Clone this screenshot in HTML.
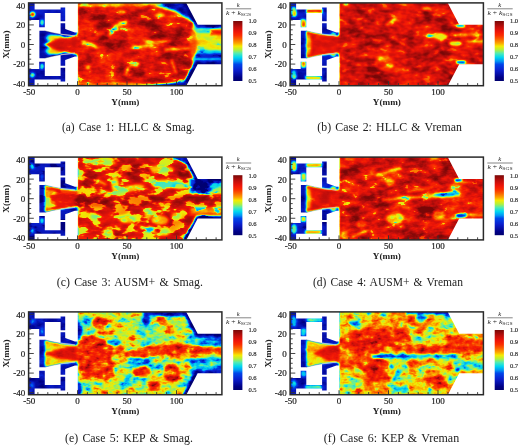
<!DOCTYPE html>
<html><head><meta charset="utf-8"><style>
html,body{margin:0;padding:0;background:#fff;width:520px;height:445px;overflow:hidden}
svg{display:block}
text{font-family:"Liberation Serif",serif;fill:#222}
.t{font-size:9px;stroke:#222;stroke-width:0.2px}
.b{font-size:9.2px;font-weight:bold}
.c{font-size:6.6px;stroke:#333;stroke-width:0.15px}
.cap{font-size:11.8px;fill:#222;word-spacing:1.3px}
</style></head><body>
<svg width="520" height="445" viewBox="0 0 520 445">
<defs>
<clipPath id="dom"><path d="M0.0,0.0 L6.0,0.0 L6.0,6.5 L36.6,6.5 L36.6,10.1 L16.2,10.1 L16.2,24.4 L10.6,24.4 L10.6,17.2 L0.0,17.2 Z M0.0,83.2 L6.0,83.2 L6.0,76.7 L36.6,76.7 L36.6,73.1 L16.2,73.1 L16.2,58.8 L10.6,58.8 L10.6,66.0 L0.0,66.0 Z M32.0,4.5 L36.6,4.5 L36.6,18.3 L32.0,18.3 Z M32.0,78.7 L36.6,78.7 L36.6,64.9 L32.0,64.9 Z M10.8,27.9 L16.2,27.9 L24.4,29.9 L32.0,31.3 L32.0,20.3 L36.6,20.3 L36.6,26.1 L46.3,29.6 L49.2,29.6 L49.2,0.0 L157.6,0.0 L169.1,21.9 L193.3,21.9 L193.3,61.3 L169.1,61.3 L157.6,83.2 L49.2,83.2 L49.2,53.6 L46.3,53.6 L36.6,57.1 L36.6,62.9 L32.0,62.9 L32.0,51.9 L24.4,53.3 L16.2,55.3 L10.8,55.3 Z"/></clipPath>
<linearGradient id="cb" x1="0" y1="1" x2="0" y2="0">
<stop offset="0.000" stop-color="rgb(0,0,110)"/>
<stop offset="0.060" stop-color="rgb(0,0,135)"/>
<stop offset="0.180" stop-color="rgb(10,30,205)"/>
<stop offset="0.280" stop-color="rgb(0,70,235)"/>
<stop offset="0.330" stop-color="rgb(0,150,245)"/>
<stop offset="0.395" stop-color="rgb(0,215,240)"/>
<stop offset="0.460" stop-color="rgb(80,235,180)"/>
<stop offset="0.520" stop-color="rgb(180,240,60)"/>
<stop offset="0.580" stop-color="rgb(245,235,0)"/>
<stop offset="0.630" stop-color="rgb(252,165,0)"/>
<stop offset="0.700" stop-color="rgb(250,95,0)"/>
<stop offset="0.760" stop-color="rgb(250,45,0)"/>
<stop offset="0.820" stop-color="rgb(240,22,8)"/>
<stop offset="0.900" stop-color="rgb(195,15,12)"/>
<stop offset="1.000" stop-color="rgb(120,8,8)"/>
</linearGradient>

<filter id="f0" x="0" y="0" width="193.3" height="82.8" filterUnits="userSpaceOnUse" color-interpolation-filters="sRGB">
<feGaussianBlur in="SourceGraphic" stdDeviation="1.20" result="m"/>
<feColorMatrix in="m" type="matrix" values="1 0 0 0 0  1 0 0 0 0  1 0 0 0 0  0 0 0 0 1" result="mR"/>
<feColorMatrix in="m" type="matrix" values="0 1 0 0 0  0 1 0 0 0  0 1 0 0 0  0 0 0 0 1" result="aG"/>
<feTurbulence type="fractalNoise" baseFrequency="0.09 0.16" numOctaves="3" seed="3" result="na"/>
<feColorMatrix in="na" type="matrix" values="1 0 0 0 0  1 0 0 0 0  1 0 0 0 0  0 0 0 0 1" result="na1"/>
<feComponentTransfer in="na1" result="nT"><feFuncR type="table" tableValues="0.000 0.010 0.021 0.031 0.042 0.100 0.350 0.387 0.425 0.463 0.500 0.533 0.567 0.600 0.621 0.643 0.664 0.686 0.707 0.729 0.750"/><feFuncG type="table" tableValues="0.000 0.010 0.021 0.031 0.042 0.100 0.350 0.387 0.425 0.463 0.500 0.533 0.567 0.600 0.621 0.643 0.664 0.686 0.707 0.729 0.750"/><feFuncB type="table" tableValues="0.000 0.010 0.021 0.031 0.042 0.100 0.350 0.387 0.425 0.463 0.500 0.533 0.567 0.600 0.621 0.643 0.664 0.686 0.707 0.729 0.750"/></feComponentTransfer>
<feComposite in="aG" in2="nT" operator="arithmetic" k1="1" k2="0" k3="0" k4="0" result="t"/>
<feComposite in="t" in2="aG" operator="arithmetic" k1="0" k2="1" k3="-0.5" k4="0.5" result="u"/>
<feComposite in="mR" in2="u" operator="arithmetic" k1="0" k2="1" k3="0.550" k4="-0.275" result="s1"/>
<feTurbulence type="fractalNoise" baseFrequency="0.03 0.05" numOctaves="2" seed="53" result="nb"/>
<feColorMatrix in="nb" type="matrix" values="1 0 0 0 0  1 0 0 0 0  1 0 0 0 0  0 0 0 0 1" result="nb1"/>
<feComposite in="aG" in2="nb1" operator="arithmetic" k1="1" k2="0" k3="0" k4="0" result="t2"/>
<feComposite in="t2" in2="aG" operator="arithmetic" k1="0" k2="1" k3="-0.5" k4="0.5" result="u2"/>
<feComposite in="s1" in2="u2" operator="arithmetic" k1="0" k2="1" k3="0.400" k4="-0.200" result="s"/>
<feComponentTransfer in="s">
<feFuncR type="table" tableValues="0.000 0.000 0.000 0.005 0.013 0.021 0.029 0.038 0.031 0.022 0.012 0.002 0.000 0.000 0.000 0.000 0.024 0.145 0.265 0.412 0.575 0.727 0.833 0.940 0.972 0.985 0.986 0.983 0.980 0.980 0.980 0.971 0.954 0.930 0.875 0.820 0.765 0.691 0.618 0.544 0.471"/>
<feFuncG type="table" tableValues="0.000 0.000 0.000 0.015 0.039 0.064 0.088 0.113 0.149 0.188 0.227 0.267 0.400 0.557 0.667 0.765 0.849 0.879 0.910 0.926 0.935 0.940 0.931 0.923 0.812 0.675 0.569 0.471 0.373 0.291 0.209 0.154 0.116 0.085 0.076 0.067 0.059 0.052 0.045 0.038 0.031"/>
<feFuncB type="table" tableValues="0.431 0.472 0.513 0.564 0.621 0.678 0.735 0.792 0.827 0.857 0.886 0.916 0.937 0.957 0.955 0.947 0.923 0.833 0.742 0.588 0.392 0.216 0.118 0.020 0.000 0.000 0.000 0.000 0.000 0.000 0.000 0.008 0.021 0.032 0.037 0.042 0.047 0.043 0.039 0.035 0.031"/>
<feFuncA type="linear" slope="0" intercept="1"/>
</feComponentTransfer>
</filter>
<filter id="f1" x="0" y="0" width="193.3" height="82.8" filterUnits="userSpaceOnUse" color-interpolation-filters="sRGB">
<feGaussianBlur in="SourceGraphic" stdDeviation="1.20" result="m"/>
<feColorMatrix in="m" type="matrix" values="1 0 0 0 0  1 0 0 0 0  1 0 0 0 0  0 0 0 0 1" result="mR"/>
<feColorMatrix in="m" type="matrix" values="0 1 0 0 0  0 1 0 0 0  0 1 0 0 0  0 0 0 0 1" result="aG"/>
<feTurbulence type="fractalNoise" baseFrequency="0.12 0.2" numOctaves="2" seed="5" result="na"/>
<feColorMatrix in="na" type="matrix" values="1 0 0 0 0  1 0 0 0 0  1 0 0 0 0  0 0 0 0 1" result="na1"/>
<feComponentTransfer in="na1" result="nT"><feFuncR type="table" tableValues="0.000 0.030 0.060 0.090 0.120 0.150 0.265 0.380 0.420 0.460 0.500 0.540 0.580 0.620 0.646 0.671 0.697 0.723 0.749 0.774 0.800"/><feFuncG type="table" tableValues="0.000 0.030 0.060 0.090 0.120 0.150 0.265 0.380 0.420 0.460 0.500 0.540 0.580 0.620 0.646 0.671 0.697 0.723 0.749 0.774 0.800"/><feFuncB type="table" tableValues="0.000 0.030 0.060 0.090 0.120 0.150 0.265 0.380 0.420 0.460 0.500 0.540 0.580 0.620 0.646 0.671 0.697 0.723 0.749 0.774 0.800"/></feComponentTransfer>
<feComposite in="aG" in2="nT" operator="arithmetic" k1="1" k2="0" k3="0" k4="0" result="t"/>
<feComposite in="t" in2="aG" operator="arithmetic" k1="0" k2="1" k3="-0.5" k4="0.5" result="u"/>
<feComposite in="mR" in2="u" operator="arithmetic" k1="0" k2="1" k3="0.400" k4="-0.200" result="s1"/>
<feTurbulence type="fractalNoise" baseFrequency="0.04 0.07" numOctaves="2" seed="55" result="nb"/>
<feColorMatrix in="nb" type="matrix" values="1 0 0 0 0  1 0 0 0 0  1 0 0 0 0  0 0 0 0 1" result="nb1"/>
<feComposite in="aG" in2="nb1" operator="arithmetic" k1="1" k2="0" k3="0" k4="0" result="t2"/>
<feComposite in="t2" in2="aG" operator="arithmetic" k1="0" k2="1" k3="-0.5" k4="0.5" result="u2"/>
<feComposite in="s1" in2="u2" operator="arithmetic" k1="0" k2="1" k3="0.400" k4="-0.200" result="s"/>
<feComponentTransfer in="s">
<feFuncR type="table" tableValues="0.000 0.000 0.000 0.005 0.013 0.021 0.029 0.038 0.031 0.022 0.012 0.002 0.000 0.000 0.000 0.000 0.024 0.145 0.265 0.412 0.575 0.727 0.833 0.940 0.972 0.985 0.986 0.983 0.980 0.980 0.980 0.971 0.954 0.930 0.875 0.820 0.765 0.691 0.618 0.544 0.471"/>
<feFuncG type="table" tableValues="0.000 0.000 0.000 0.015 0.039 0.064 0.088 0.113 0.149 0.188 0.227 0.267 0.400 0.557 0.667 0.765 0.849 0.879 0.910 0.926 0.935 0.940 0.931 0.923 0.812 0.675 0.569 0.471 0.373 0.291 0.209 0.154 0.116 0.085 0.076 0.067 0.059 0.052 0.045 0.038 0.031"/>
<feFuncB type="table" tableValues="0.431 0.472 0.513 0.564 0.621 0.678 0.735 0.792 0.827 0.857 0.886 0.916 0.937 0.957 0.955 0.947 0.923 0.833 0.742 0.588 0.392 0.216 0.118 0.020 0.000 0.000 0.000 0.000 0.000 0.000 0.000 0.008 0.021 0.032 0.037 0.042 0.047 0.043 0.039 0.035 0.031"/>
<feFuncA type="linear" slope="0" intercept="1"/>
</feComponentTransfer>
</filter>
<filter id="f2" x="0" y="0" width="193.3" height="82.8" filterUnits="userSpaceOnUse" color-interpolation-filters="sRGB">
<feGaussianBlur in="SourceGraphic" stdDeviation="1.20" result="m"/>
<feColorMatrix in="m" type="matrix" values="1 0 0 0 0  1 0 0 0 0  1 0 0 0 0  0 0 0 0 1" result="mR"/>
<feColorMatrix in="m" type="matrix" values="0 1 0 0 0  0 1 0 0 0  0 1 0 0 0  0 0 0 0 1" result="aG"/>
<feTurbulence type="fractalNoise" baseFrequency="0.07 0.13" numOctaves="3" seed="7" result="na"/>
<feColorMatrix in="na" type="matrix" values="1 0 0 0 0  1 0 0 0 0  1 0 0 0 0  0 0 0 0 1" result="na1"/>
<feComponentTransfer in="na1" result="nT"><feFuncR type="table" tableValues="0.000 0.000 0.000 0.000 0.000 0.000 0.000 0.000 0.000 0.250 0.500 0.550 0.583 0.617 0.650 0.658 0.667 0.675 0.683 0.692 0.700"/><feFuncG type="table" tableValues="0.000 0.000 0.000 0.000 0.000 0.000 0.000 0.000 0.000 0.250 0.500 0.550 0.583 0.617 0.650 0.658 0.667 0.675 0.683 0.692 0.700"/><feFuncB type="table" tableValues="0.000 0.000 0.000 0.000 0.000 0.000 0.000 0.000 0.000 0.250 0.500 0.550 0.583 0.617 0.650 0.658 0.667 0.675 0.683 0.692 0.700"/></feComponentTransfer>
<feComposite in="aG" in2="nT" operator="arithmetic" k1="1" k2="0" k3="0" k4="0" result="t"/>
<feComposite in="t" in2="aG" operator="arithmetic" k1="0" k2="1" k3="-0.5" k4="0.5" result="u"/>
<feComposite in="mR" in2="u" operator="arithmetic" k1="0" k2="1" k3="0.500" k4="-0.250" result="s1"/>
<feTurbulence type="fractalNoise" baseFrequency="0.03 0.05" numOctaves="2" seed="57" result="nb"/>
<feColorMatrix in="nb" type="matrix" values="1 0 0 0 0  1 0 0 0 0  1 0 0 0 0  0 0 0 0 1" result="nb1"/>
<feComposite in="aG" in2="nb1" operator="arithmetic" k1="1" k2="0" k3="0" k4="0" result="t2"/>
<feComposite in="t2" in2="aG" operator="arithmetic" k1="0" k2="1" k3="-0.5" k4="0.5" result="u2"/>
<feComposite in="s1" in2="u2" operator="arithmetic" k1="0" k2="1" k3="0.250" k4="-0.125" result="s"/>
<feComponentTransfer in="s">
<feFuncR type="table" tableValues="0.000 0.000 0.000 0.005 0.013 0.021 0.029 0.038 0.031 0.022 0.012 0.002 0.000 0.000 0.000 0.000 0.024 0.145 0.265 0.412 0.575 0.727 0.833 0.940 0.972 0.985 0.986 0.983 0.980 0.980 0.980 0.971 0.954 0.930 0.875 0.820 0.765 0.691 0.618 0.544 0.471"/>
<feFuncG type="table" tableValues="0.000 0.000 0.000 0.015 0.039 0.064 0.088 0.113 0.149 0.188 0.227 0.267 0.400 0.557 0.667 0.765 0.849 0.879 0.910 0.926 0.935 0.940 0.931 0.923 0.812 0.675 0.569 0.471 0.373 0.291 0.209 0.154 0.116 0.085 0.076 0.067 0.059 0.052 0.045 0.038 0.031"/>
<feFuncB type="table" tableValues="0.431 0.472 0.513 0.564 0.621 0.678 0.735 0.792 0.827 0.857 0.886 0.916 0.937 0.957 0.955 0.947 0.923 0.833 0.742 0.588 0.392 0.216 0.118 0.020 0.000 0.000 0.000 0.000 0.000 0.000 0.000 0.008 0.021 0.032 0.037 0.042 0.047 0.043 0.039 0.035 0.031"/>
<feFuncA type="linear" slope="0" intercept="1"/>
</feComponentTransfer>
</filter>
<filter id="f3" x="0" y="0" width="193.3" height="82.8" filterUnits="userSpaceOnUse" color-interpolation-filters="sRGB">
<feGaussianBlur in="SourceGraphic" stdDeviation="1.20" result="m"/>
<feColorMatrix in="m" type="matrix" values="1 0 0 0 0  1 0 0 0 0  1 0 0 0 0  0 0 0 0 1" result="mR"/>
<feColorMatrix in="m" type="matrix" values="0 1 0 0 0  0 1 0 0 0  0 1 0 0 0  0 0 0 0 1" result="aG"/>
<feTurbulence type="fractalNoise" baseFrequency="0.1 0.18" numOctaves="3" seed="9" result="na"/>
<feColorMatrix in="na" type="matrix" values="1 0 0 0 0  1 0 0 0 0  1 0 0 0 0  0 0 0 0 1" result="na1"/>
<feComponentTransfer in="na1" result="nT"><feFuncR type="table" tableValues="0.000 0.010 0.021 0.031 0.042 0.100 0.350 0.387 0.425 0.463 0.500 0.533 0.567 0.600 0.621 0.643 0.664 0.686 0.707 0.729 0.750"/><feFuncG type="table" tableValues="0.000 0.010 0.021 0.031 0.042 0.100 0.350 0.387 0.425 0.463 0.500 0.533 0.567 0.600 0.621 0.643 0.664 0.686 0.707 0.729 0.750"/><feFuncB type="table" tableValues="0.000 0.010 0.021 0.031 0.042 0.100 0.350 0.387 0.425 0.463 0.500 0.533 0.567 0.600 0.621 0.643 0.664 0.686 0.707 0.729 0.750"/></feComponentTransfer>
<feComposite in="aG" in2="nT" operator="arithmetic" k1="1" k2="0" k3="0" k4="0" result="t"/>
<feComposite in="t" in2="aG" operator="arithmetic" k1="0" k2="1" k3="-0.5" k4="0.5" result="u"/>
<feComposite in="mR" in2="u" operator="arithmetic" k1="0" k2="1" k3="0.500" k4="-0.250" result="s1"/>
<feTurbulence type="fractalNoise" baseFrequency="0.04 0.07" numOctaves="2" seed="59" result="nb"/>
<feColorMatrix in="nb" type="matrix" values="1 0 0 0 0  1 0 0 0 0  1 0 0 0 0  0 0 0 0 1" result="nb1"/>
<feComposite in="aG" in2="nb1" operator="arithmetic" k1="1" k2="0" k3="0" k4="0" result="t2"/>
<feComposite in="t2" in2="aG" operator="arithmetic" k1="0" k2="1" k3="-0.5" k4="0.5" result="u2"/>
<feComposite in="s1" in2="u2" operator="arithmetic" k1="0" k2="1" k3="0.400" k4="-0.200" result="s"/>
<feComponentTransfer in="s">
<feFuncR type="table" tableValues="0.000 0.000 0.000 0.005 0.013 0.021 0.029 0.038 0.031 0.022 0.012 0.002 0.000 0.000 0.000 0.000 0.024 0.145 0.265 0.412 0.575 0.727 0.833 0.940 0.972 0.985 0.986 0.983 0.980 0.980 0.980 0.971 0.954 0.930 0.875 0.820 0.765 0.691 0.618 0.544 0.471"/>
<feFuncG type="table" tableValues="0.000 0.000 0.000 0.015 0.039 0.064 0.088 0.113 0.149 0.188 0.227 0.267 0.400 0.557 0.667 0.765 0.849 0.879 0.910 0.926 0.935 0.940 0.931 0.923 0.812 0.675 0.569 0.471 0.373 0.291 0.209 0.154 0.116 0.085 0.076 0.067 0.059 0.052 0.045 0.038 0.031"/>
<feFuncB type="table" tableValues="0.431 0.472 0.513 0.564 0.621 0.678 0.735 0.792 0.827 0.857 0.886 0.916 0.937 0.957 0.955 0.947 0.923 0.833 0.742 0.588 0.392 0.216 0.118 0.020 0.000 0.000 0.000 0.000 0.000 0.000 0.000 0.008 0.021 0.032 0.037 0.042 0.047 0.043 0.039 0.035 0.031"/>
<feFuncA type="linear" slope="0" intercept="1"/>
</feComponentTransfer>
</filter>
<filter id="f4" x="0" y="0" width="193.3" height="82.8" filterUnits="userSpaceOnUse" color-interpolation-filters="sRGB">
<feGaussianBlur in="SourceGraphic" stdDeviation="1.20" result="m"/>
<feColorMatrix in="m" type="matrix" values="1 0 0 0 0  1 0 0 0 0  1 0 0 0 0  0 0 0 0 1" result="mR"/>
<feColorMatrix in="m" type="matrix" values="0 1 0 0 0  0 1 0 0 0  0 1 0 0 0  0 0 0 0 1" result="aG"/>
<feTurbulence type="fractalNoise" baseFrequency="0.11 0.17" numOctaves="3" seed="11" result="na"/>
<feColorMatrix in="na" type="matrix" values="1 0 0 0 0  1 0 0 0 0  1 0 0 0 0  0 0 0 0 1" result="na1"/>
<feComponentTransfer in="na1" result="nT"><feFuncR type="table" tableValues="0.1 0.18 0.28 0.38 0.45 0.5 0.55 0.62 0.72 0.82 0.9"/><feFuncG type="table" tableValues="0.1 0.18 0.28 0.38 0.45 0.5 0.55 0.62 0.72 0.82 0.9"/><feFuncB type="table" tableValues="0.1 0.18 0.28 0.38 0.45 0.5 0.55 0.62 0.72 0.82 0.9"/></feComponentTransfer>
<feComposite in="aG" in2="nT" operator="arithmetic" k1="1" k2="0" k3="0" k4="0" result="t"/>
<feComposite in="t" in2="aG" operator="arithmetic" k1="0" k2="1" k3="-0.5" k4="0.5" result="u"/>
<feComposite in="mR" in2="u" operator="arithmetic" k1="0" k2="1" k3="0.900" k4="-0.450" result="s1"/>
<feTurbulence type="fractalNoise" baseFrequency="0.03 0.05" numOctaves="2" seed="61" result="nb"/>
<feColorMatrix in="nb" type="matrix" values="1 0 0 0 0  1 0 0 0 0  1 0 0 0 0  0 0 0 0 1" result="nb1"/>
<feComposite in="aG" in2="nb1" operator="arithmetic" k1="1" k2="0" k3="0" k4="0" result="t2"/>
<feComposite in="t2" in2="aG" operator="arithmetic" k1="0" k2="1" k3="-0.5" k4="0.5" result="u2"/>
<feComposite in="s1" in2="u2" operator="arithmetic" k1="0" k2="1" k3="0.300" k4="-0.150" result="s"/>
<feComponentTransfer in="s">
<feFuncR type="table" tableValues="0.000 0.000 0.000 0.005 0.013 0.021 0.029 0.038 0.031 0.022 0.012 0.002 0.000 0.000 0.000 0.000 0.024 0.145 0.265 0.412 0.575 0.727 0.833 0.940 0.972 0.985 0.986 0.983 0.980 0.980 0.980 0.971 0.954 0.930 0.875 0.820 0.765 0.691 0.618 0.544 0.471"/>
<feFuncG type="table" tableValues="0.000 0.000 0.000 0.015 0.039 0.064 0.088 0.113 0.149 0.188 0.227 0.267 0.400 0.557 0.667 0.765 0.849 0.879 0.910 0.926 0.935 0.940 0.931 0.923 0.812 0.675 0.569 0.471 0.373 0.291 0.209 0.154 0.116 0.085 0.076 0.067 0.059 0.052 0.045 0.038 0.031"/>
<feFuncB type="table" tableValues="0.431 0.472 0.513 0.564 0.621 0.678 0.735 0.792 0.827 0.857 0.886 0.916 0.937 0.957 0.955 0.947 0.923 0.833 0.742 0.588 0.392 0.216 0.118 0.020 0.000 0.000 0.000 0.000 0.000 0.000 0.000 0.008 0.021 0.032 0.037 0.042 0.047 0.043 0.039 0.035 0.031"/>
<feFuncA type="linear" slope="0" intercept="1"/>
</feComponentTransfer>
</filter>
<filter id="f5" x="0" y="0" width="193.3" height="82.8" filterUnits="userSpaceOnUse" color-interpolation-filters="sRGB">
<feGaussianBlur in="SourceGraphic" stdDeviation="1.20" result="m"/>
<feColorMatrix in="m" type="matrix" values="1 0 0 0 0  1 0 0 0 0  1 0 0 0 0  0 0 0 0 1" result="mR"/>
<feColorMatrix in="m" type="matrix" values="0 1 0 0 0  0 1 0 0 0  0 1 0 0 0  0 0 0 0 1" result="aG"/>
<feTurbulence type="fractalNoise" baseFrequency="0.11 0.17" numOctaves="3" seed="13" result="na"/>
<feColorMatrix in="na" type="matrix" values="1 0 0 0 0  1 0 0 0 0  1 0 0 0 0  0 0 0 0 1" result="na1"/>
<feComponentTransfer in="na1" result="nT"><feFuncR type="table" tableValues="0.1 0.18 0.28 0.38 0.45 0.5 0.55 0.62 0.72 0.82 0.9"/><feFuncG type="table" tableValues="0.1 0.18 0.28 0.38 0.45 0.5 0.55 0.62 0.72 0.82 0.9"/><feFuncB type="table" tableValues="0.1 0.18 0.28 0.38 0.45 0.5 0.55 0.62 0.72 0.82 0.9"/></feComponentTransfer>
<feComposite in="aG" in2="nT" operator="arithmetic" k1="1" k2="0" k3="0" k4="0" result="t"/>
<feComposite in="t" in2="aG" operator="arithmetic" k1="0" k2="1" k3="-0.5" k4="0.5" result="u"/>
<feComposite in="mR" in2="u" operator="arithmetic" k1="0" k2="1" k3="0.900" k4="-0.450" result="s1"/>
<feTurbulence type="fractalNoise" baseFrequency="0.03 0.05" numOctaves="2" seed="63" result="nb"/>
<feColorMatrix in="nb" type="matrix" values="1 0 0 0 0  1 0 0 0 0  1 0 0 0 0  0 0 0 0 1" result="nb1"/>
<feComposite in="aG" in2="nb1" operator="arithmetic" k1="1" k2="0" k3="0" k4="0" result="t2"/>
<feComposite in="t2" in2="aG" operator="arithmetic" k1="0" k2="1" k3="-0.5" k4="0.5" result="u2"/>
<feComposite in="s1" in2="u2" operator="arithmetic" k1="0" k2="1" k3="0.300" k4="-0.150" result="s"/>
<feComponentTransfer in="s">
<feFuncR type="table" tableValues="0.000 0.000 0.000 0.005 0.013 0.021 0.029 0.038 0.031 0.022 0.012 0.002 0.000 0.000 0.000 0.000 0.024 0.145 0.265 0.412 0.575 0.727 0.833 0.940 0.972 0.985 0.986 0.983 0.980 0.980 0.980 0.971 0.954 0.930 0.875 0.820 0.765 0.691 0.618 0.544 0.471"/>
<feFuncG type="table" tableValues="0.000 0.000 0.000 0.015 0.039 0.064 0.088 0.113 0.149 0.188 0.227 0.267 0.400 0.557 0.667 0.765 0.849 0.879 0.910 0.926 0.935 0.940 0.931 0.923 0.812 0.675 0.569 0.471 0.373 0.291 0.209 0.154 0.116 0.085 0.076 0.067 0.059 0.052 0.045 0.038 0.031"/>
<feFuncB type="table" tableValues="0.431 0.472 0.513 0.564 0.621 0.678 0.735 0.792 0.827 0.857 0.886 0.916 0.937 0.957 0.955 0.947 0.923 0.833 0.742 0.588 0.392 0.216 0.118 0.020 0.000 0.000 0.000 0.000 0.000 0.000 0.000 0.008 0.021 0.032 0.037 0.042 0.047 0.043 0.039 0.035 0.031"/>
<feFuncA type="linear" slope="0" intercept="1"/>
</feComponentTransfer>
</filter>
</defs>
<g transform="translate(28.60,2.90)"><g clip-path="url(#dom)"><g filter="url(#f0)"><rect x="0" y="0" width="193.3" height="82.8" fill="rgb(217,255,0)"/><rect x="-28.6" y="-2.9" width="77.5" height="90.0" fill="rgb(33,102,0)"/><ellipse cx="3.9" cy="11.6" rx="2.6" ry="2.4" fill="rgb(199,102,0)"/><ellipse cx="3.9" cy="72.1" rx="2.6" ry="2.4" fill="rgb(140,102,0)"/><ellipse cx="13.4" cy="19.6" rx="1.8" ry="3.2" fill="rgb(128,102,0)"/><ellipse cx="13.4" cy="63.6" rx="1.8" ry="3.2" fill="rgb(128,102,0)"/><ellipse cx="21.4" cy="35.1" rx="5.0" ry="4.0" fill="rgb(115,102,0)"/><ellipse cx="21.4" cy="48.1" rx="5.0" ry="4.0" fill="rgb(115,102,0)"/><ellipse cx="27.4" cy="35.1" rx="8.0" ry="3.5" fill="rgb(153,102,0)"/><ellipse cx="27.4" cy="48.1" rx="8.0" ry="3.5" fill="rgb(153,102,0)"/><path d="M14.4,41.7 L29.4,36.1 L48.9,32.1 L48.9,51.6 L29.4,47.6 Z" fill="rgb(219,102,0)"/><rect x="48.9" y="0.1" width="112.5" height="84.0" fill="rgb(217,255,0)"/><ellipse cx="59.4" cy="14.1" rx="8.0" ry="7.0" fill="rgb(224,255,0)"/><ellipse cx="111.4" cy="27.1" rx="11.0" ry="9.0" fill="rgb(224,255,0)"/><ellipse cx="68.4" cy="52.1" rx="11.0" ry="6.0" fill="rgb(224,255,0)"/><ellipse cx="127.4" cy="26.1" rx="10.0" ry="11.0" fill="rgb(227,255,0)"/><ellipse cx="132.4" cy="65.1" rx="9.0" ry="14.0" fill="rgb(224,255,0)"/><ellipse cx="81.4" cy="72.1" rx="8.0" ry="6.0" fill="rgb(222,255,0)"/><ellipse cx="121.4" cy="49.1" rx="6.0" ry="5.0" fill="rgb(222,255,0)"/><path d="M81.4,31.1 L85.4,25.1 L91.4,21.1 L97.4,19.1" fill="none" stroke="rgb(153,255,0)" stroke-width="4.0" stroke-linecap="round" stroke-linejoin="round"/><ellipse cx="86.9" cy="26.1" rx="2.5" ry="2.0" fill="rgb(115,255,0)"/><path d="M54.4,39.1 L61.4,41.1 L67.4,44.1" fill="none" stroke="rgb(153,255,0)" stroke-width="3.5" stroke-linecap="round" stroke-linejoin="round"/><ellipse cx="59.4" cy="64.1" rx="3.0" ry="3.0" fill="rgb(158,255,0)"/><path d="M97.4,71.1 L99.4,65.1 L103.4,62.1 L109.4,61.1" fill="none" stroke="rgb(153,255,0)" stroke-width="3.5" stroke-linecap="round" stroke-linejoin="round"/><ellipse cx="99.4" cy="66.6" rx="1.5" ry="2.5" fill="rgb(115,255,0)"/><ellipse cx="107.9" cy="62.1" rx="1.3" ry="1.8" fill="rgb(117,255,0)"/><path d="M103.4,45.1 L113.4,43.1 L123.4,42.1" fill="none" stroke="rgb(153,255,0)" stroke-width="3.0" stroke-linecap="round" stroke-linejoin="round"/><path d="M117.4,39.1 L129.4,38.6 L141.4,38.1" fill="none" stroke="rgb(158,255,0)" stroke-width="2.6" stroke-linecap="round" stroke-linejoin="round"/><path d="M137.4,47.1 L151.4,46.1 L163.4,45.1" fill="none" stroke="rgb(133,255,0)" stroke-width="3.5" stroke-linecap="round" stroke-linejoin="round"/><path d="M143.4,58.1 L145.4,64.1 L147.4,69.1" fill="none" stroke="rgb(153,255,0)" stroke-width="2.5" stroke-linecap="round" stroke-linejoin="round"/><path d="M50.4,2.6 L71.4,2.6 L117.4,2.1" fill="none" stroke="rgb(158,255,0)" stroke-width="3.0" stroke-linecap="round" stroke-linejoin="round"/><ellipse cx="55.4" cy="2.1" rx="5.0" ry="1.8" fill="rgb(102,255,0)"/><path d="M50.4,81.1 L81.4,81.1 L121.4,81.1" fill="none" stroke="rgb(158,255,0)" stroke-width="2.6" stroke-linecap="round" stroke-linejoin="round"/><ellipse cx="71.4" cy="31.1" rx="5.0" ry="2.0" fill="rgb(161,255,0)" transform="rotate(-20 71.4 31.1)"/><ellipse cx="93.4" cy="9.1" rx="4.0" ry="2.0" fill="rgb(161,255,0)"/><ellipse cx="131.4" cy="12.1" rx="5.0" ry="2.5" fill="rgb(158,255,0)"/><path d="M117.4,0.1 L158.4,0.1 L166.4,17.1 L161.4,19.1 L151.4,12.1 L139.4,7.1 L126.4,3.1 L117.4,2.1 Z" fill="rgb(128,255,0)"/><path d="M131.4,0.1 L158.4,0.1 L164.4,14.1 L157.4,13.1 L149.4,8.1 L139.4,4.1 Z" fill="rgb(31,255,0)"/><rect x="163.4" y="21.1" width="31.0" height="42.0" fill="rgb(148,115,0)"/><rect x="163.4" y="25.6" width="31.0" height="4.5" fill="rgb(120,115,0)"/><rect x="163.4" y="36.1" width="31.0" height="11.0" fill="rgb(153,115,0)"/><rect x="181.4" y="27.1" width="13.0" height="5.0" fill="rgb(204,115,0)"/><rect x="163.4" y="47.1" width="31.0" height="4.0" fill="rgb(102,115,0)"/><rect x="163.4" y="51.1" width="31.0" height="4.0" fill="rgb(46,115,0)"/><rect x="163.4" y="55.1" width="31.0" height="3.0" fill="rgb(107,115,0)"/><ellipse cx="164.4" cy="41.1" rx="4.0" ry="14.0" fill="rgb(178,115,0)"/><path d="M107.4,84.1 L158.4,84.1 L158.4,77.1 L149.4,78.6 L136.4,80.1 L121.4,81.6 Z" fill="rgb(128,255,0)"/><path d="M111.4,84.1 L158.4,84.1 L158.4,78.6 L149.4,79.9 L136.4,81.3 L121.4,82.6 Z" fill="rgb(15,255,0)"/><path d="M157.6,0.1 L169.1,21.9 L194.4,21.9" fill="none" stroke="rgb(10,255,0)" stroke-width="6.0" stroke-linecap="round" stroke-linejoin="round"/><path d="M157.6,83.4 L169.1,61.5 L194.4,61.5" fill="none" stroke="rgb(10,255,0)" stroke-width="8.0" stroke-linecap="round" stroke-linejoin="round"/></g></g><path d="M32,31.3 L46.3,33 M32,51.9 L46.3,50.2" stroke="#fff" stroke-width="0.9" fill="none"/><path d="M16.2,27.9 L24.4,29.9 L32,31.3 L46.3,33 M16.2,55.3 L24.4,53.3 L32,51.9 L46.3,50.2" stroke="#666" stroke-width="0.45" fill="none" opacity="0.8"/><path d="M9.30,82.80 v-2.6 M19.20,82.80 v-2.6 M29.10,82.80 v-2.6 M39.00,82.80 v-2.6 M48.90,82.80 v-4.5 M58.80,82.80 v-2.6 M68.70,82.80 v-2.6 M78.60,82.80 v-2.6 M88.50,82.80 v-2.6 M98.40,82.80 v-4.5 M108.30,82.80 v-2.6 M118.20,82.80 v-2.6 M128.10,82.80 v-2.6 M138.00,82.80 v-2.6 M147.90,82.80 v-4.5 M157.80,82.80 v-2.6 M167.70,82.80 v-2.6 M177.60,82.80 v-2.6 M187.50,82.80 v-2.6 M0,80.76 h5.2 M0,75.87 h2.6 M0,70.97 h2.6 M0,66.08 h2.6 M0,61.18 h5.2 M0,56.29 h2.6 M0,51.39 h2.6 M0,46.50 h2.6 M0,41.60 h5.2 M0,36.70 h2.6 M0,31.81 h2.6 M0,26.91 h2.6 M0,22.02 h5.2 M0,17.13 h2.6 M0,12.23 h2.6 M0,7.34 h2.6 M0,2.44 h5.2" stroke="#333" stroke-width="0.9" fill="none"/><rect x="0" y="0" width="193.3" height="82.8" fill="none" stroke="#2a2a2a" stroke-width="1.5"/><text class="t" x="0.60" y="92.40" text-anchor="middle">-50</text><text class="t" x="48.90" y="92.40" text-anchor="middle">0</text><text class="t" x="98.40" y="92.40" text-anchor="middle">50</text><text class="t" x="147.90" y="92.40" text-anchor="middle">100</text><text class="t" x="-3.3" y="5.84" text-anchor="end">40</text><text class="t" x="-3.3" y="25.42" text-anchor="end">20</text><text class="t" x="-3.3" y="45.00" text-anchor="end">0</text><text class="t" x="-3.3" y="64.58" text-anchor="end">-20</text><text class="t" x="-3.3" y="84.16" text-anchor="end">-40</text><text class="b" x="96.8" y="101.80" text-anchor="middle">Y(mm)</text><text class="b" transform="translate(-19.6,41.60) rotate(-90)" text-anchor="middle">X(mm)</text><rect x="204.6" y="18.1" width="9.2" height="60" fill="url(#cb)"/><text class="c" x="219.8" y="20.50">1.0</text><text class="c" x="219.8" y="32.50">0.9</text><text class="c" x="219.8" y="44.50">0.8</text><text class="c" x="219.8" y="56.50">0.7</text><text class="c" x="219.8" y="68.50">0.6</text><text class="c" x="219.8" y="80.50">0.5</text><text x="209.6" y="3.6" text-anchor="middle" style="font-size:6.5px;font-style:italic">k</text><line x1="197.2" x2="222.6" y1="5.9" y2="5.9" stroke="#333" stroke-width="0.6"/><text x="197.3" y="12.4" style="font-size:6.5px" textLength="25.2" lengthAdjust="spacingAndGlyphs"><tspan font-style="italic">k</tspan> + <tspan font-style="italic">k</tspan><tspan style="font-size:4.8px" dy="1">SGS</tspan></text></g>
<text class="cap" x="61.9" y="131.4" textLength="132.7" lengthAdjust="spacingAndGlyphs" xml:space="preserve">(a) Case 1: HLLC &amp; Smag.</text>
<g transform="translate(290.10,2.90)"><g clip-path="url(#dom)"><g filter="url(#f1)"><rect x="0" y="0" width="193.3" height="82.8" fill="rgb(222,255,0)"/><rect x="-28.6" y="-2.9" width="77.5" height="90.0" fill="rgb(33,102,0)"/><ellipse cx="3.9" cy="9.1" rx="3.0" ry="5.5" fill="rgb(122,102,0)"/><ellipse cx="4.4" cy="11.1" rx="2.0" ry="2.5" fill="rgb(163,102,0)"/><rect x="16.1" y="5.8" width="16.3" height="4.4" fill="rgb(204,102,0)"/><rect x="10.6" y="16.1" width="5.6" height="8.6" fill="rgb(158,102,0)"/><ellipse cx="13.4" cy="22.1" rx="2.5" ry="2.5" fill="rgb(184,102,0)"/><ellipse cx="43.4" cy="30.6" rx="3.0" ry="1.8" fill="rgb(128,102,0)"/><rect x="10.6" y="58.6" width="5.6" height="6.5" fill="rgb(148,102,0)"/><ellipse cx="13.4" cy="60.1" rx="2.5" ry="2.0" fill="rgb(191,102,0)"/><ellipse cx="3.9" cy="72.1" rx="3.0" ry="5.0" fill="rgb(115,102,0)"/><ellipse cx="4.4" cy="74.1" rx="2.0" ry="2.0" fill="rgb(143,102,0)"/><rect x="14.9" y="72.9" width="16.5" height="4.4" fill="rgb(158,102,0)"/><ellipse cx="43.4" cy="52.6" rx="3.0" ry="1.8" fill="rgb(128,102,0)"/><ellipse cx="33.9" cy="11.1" rx="1.0" ry="1.5" fill="rgb(76,102,0)"/><ellipse cx="33.9" cy="70.1" rx="1.0" ry="1.5" fill="rgb(76,102,0)"/><path d="M16.2,27.9 L24.4,29.9 L32.0,31.3 L46.3,33.0 L49.4,33.4 L49.4,50.0 L46.3,50.4 L32.0,52.1 L24.4,53.5 L16.2,55.5 Z" fill="rgb(217,102,0)"/><ellipse cx="18.9" cy="41.7" rx="2.5" ry="11.0" fill="rgb(158,102,0)"/><rect x="48.9" y="0.1" width="112.5" height="84.0" fill="rgb(222,255,0)"/><rect x="161.4" y="21.1" width="33.0" height="42.0" fill="rgb(212,255,0)"/><ellipse cx="94.4" cy="60.1" rx="10.0" ry="8.0" fill="rgb(189,255,0)"/><ellipse cx="99.4" cy="63.1" rx="4.0" ry="3.0" fill="rgb(158,255,0)"/><ellipse cx="91.4" cy="55.1" rx="3.0" ry="2.0" fill="rgb(158,255,0)"/><path d="M96.4,22.1 L105.4,16.1" fill="none" stroke="rgb(163,255,0)" stroke-width="2.5" stroke-linecap="round" stroke-linejoin="round"/><ellipse cx="55.4" cy="1.6" rx="3.0" ry="1.5" fill="rgb(158,255,0)"/><ellipse cx="135.9" cy="5.6" rx="5.0" ry="1.5" fill="rgb(161,255,0)"/><ellipse cx="66.4" cy="42.1" rx="12.0" ry="10.0" fill="rgb(230,255,0)"/><ellipse cx="121.4" cy="57.1" rx="12.0" ry="10.0" fill="rgb(230,255,0)"/><ellipse cx="76.4" cy="17.1" rx="10.0" ry="8.0" fill="rgb(230,255,0)"/><ellipse cx="141.4" cy="47.1" rx="10.0" ry="8.0" fill="rgb(230,255,0)"/><path d="M165.4,32.1 L192.4,31.6" fill="none" stroke="rgb(161,255,0)" stroke-width="3.0" stroke-linecap="round" stroke-linejoin="round"/><path d="M177.4,38.6 L192.4,38.6" fill="none" stroke="rgb(158,255,0)" stroke-width="2.5" stroke-linecap="round" stroke-linejoin="round"/><ellipse cx="150.2" cy="33.5" rx="8.0" ry="3.5" fill="rgb(140,102,0)"/><ellipse cx="165.4" cy="40.6" rx="7.0" ry="3.0" fill="rgb(128,102,0)"/><ellipse cx="170.4" cy="22.9" rx="5.0" ry="1.5" fill="rgb(26,255,0)"/><ellipse cx="170.9" cy="59.3" rx="5.0" ry="1.5" fill="rgb(26,255,0)"/><ellipse cx="141.4" cy="33.1" rx="5.0" ry="2.0" fill="rgb(158,255,0)"/></g></g><path d="M32,31.3 L46.3,33 M32,51.9 L46.3,50.2" stroke="#fff" stroke-width="0.9" fill="none"/><path d="M16.2,27.9 L24.4,29.9 L32,31.3 L46.3,33 M16.2,55.3 L24.4,53.3 L32,51.9 L46.3,50.2" stroke="#666" stroke-width="0.45" fill="none" opacity="0.8"/><path d="M9.30,82.80 v-2.6 M19.20,82.80 v-2.6 M29.10,82.80 v-2.6 M39.00,82.80 v-2.6 M48.90,82.80 v-4.5 M58.80,82.80 v-2.6 M68.70,82.80 v-2.6 M78.60,82.80 v-2.6 M88.50,82.80 v-2.6 M98.40,82.80 v-4.5 M108.30,82.80 v-2.6 M118.20,82.80 v-2.6 M128.10,82.80 v-2.6 M138.00,82.80 v-2.6 M147.90,82.80 v-4.5 M157.80,82.80 v-2.6 M167.70,82.80 v-2.6 M177.60,82.80 v-2.6 M187.50,82.80 v-2.6 M0,80.76 h5.2 M0,75.87 h2.6 M0,70.97 h2.6 M0,66.08 h2.6 M0,61.18 h5.2 M0,56.29 h2.6 M0,51.39 h2.6 M0,46.50 h2.6 M0,41.60 h5.2 M0,36.70 h2.6 M0,31.81 h2.6 M0,26.91 h2.6 M0,22.02 h5.2 M0,17.13 h2.6 M0,12.23 h2.6 M0,7.34 h2.6 M0,2.44 h5.2" stroke="#333" stroke-width="0.9" fill="none"/><rect x="0" y="0" width="193.3" height="82.8" fill="none" stroke="#2a2a2a" stroke-width="1.5"/><text class="t" x="0.60" y="92.40" text-anchor="middle">-50</text><text class="t" x="48.90" y="92.40" text-anchor="middle">0</text><text class="t" x="98.40" y="92.40" text-anchor="middle">50</text><text class="t" x="147.90" y="92.40" text-anchor="middle">100</text><text class="t" x="-3.3" y="5.84" text-anchor="end">40</text><text class="t" x="-3.3" y="25.42" text-anchor="end">20</text><text class="t" x="-3.3" y="45.00" text-anchor="end">0</text><text class="t" x="-3.3" y="64.58" text-anchor="end">-20</text><text class="t" x="-3.3" y="84.16" text-anchor="end">-40</text><text class="b" x="96.8" y="101.80" text-anchor="middle">Y(mm)</text><text class="b" transform="translate(-19.6,41.60) rotate(-90)" text-anchor="middle">X(mm)</text><rect x="204.6" y="18.1" width="9.2" height="60" fill="url(#cb)"/><text class="c" x="219.8" y="20.50">1.0</text><text class="c" x="219.8" y="32.50">0.9</text><text class="c" x="219.8" y="44.50">0.8</text><text class="c" x="219.8" y="56.50">0.7</text><text class="c" x="219.8" y="68.50">0.6</text><text class="c" x="219.8" y="80.50">0.5</text><text x="209.6" y="3.6" text-anchor="middle" style="font-size:6.5px;font-style:italic">k</text><line x1="197.2" x2="222.6" y1="5.9" y2="5.9" stroke="#333" stroke-width="0.6"/><text x="197.3" y="12.4" style="font-size:6.5px" textLength="25.2" lengthAdjust="spacingAndGlyphs"><tspan font-style="italic">k</tspan> + <tspan font-style="italic">k</tspan><tspan style="font-size:4.8px" dy="1">SGS</tspan></text></g>
<text class="cap" x="317.3" y="131.4" textLength="144.7" lengthAdjust="spacingAndGlyphs" xml:space="preserve">(b) Case 2: HLLC &amp; Vreman</text>
<g transform="translate(28.60,157.10)"><g clip-path="url(#dom)"><g filter="url(#f2)"><rect x="0" y="0" width="193.3" height="82.8" fill="rgb(209,255,0)"/><rect x="-28.6" y="-2.9" width="77.5" height="90.0" fill="rgb(33,102,0)"/><ellipse cx="3.9" cy="9.1" rx="2.0" ry="3.0" fill="rgb(115,102,0)"/><ellipse cx="3.9" cy="73.1" rx="2.0" ry="3.0" fill="rgb(107,102,0)"/><ellipse cx="13.4" cy="19.6" rx="1.6" ry="3.0" fill="rgb(115,102,0)"/><ellipse cx="13.4" cy="63.6" rx="1.6" ry="3.0" fill="rgb(115,102,0)"/><path d="M16.2,27.9 L24.4,29.9 L32.0,31.3 L46.3,33.0 L49.4,33.4 L49.4,50.0 L46.3,50.4 L32.0,52.1 L24.4,53.5 L16.2,55.5 Z" fill="rgb(214,102,0)"/><ellipse cx="19.4" cy="41.7" rx="2.5" ry="10.0" fill="rgb(158,102,0)"/><ellipse cx="23.4" cy="35.1" rx="4.0" ry="2.5" fill="rgb(166,102,0)"/><ellipse cx="23.4" cy="48.1" rx="4.0" ry="2.5" fill="rgb(166,102,0)"/><rect x="48.9" y="0.1" width="112.5" height="84.0" fill="rgb(209,255,0)"/><ellipse cx="73.4" cy="5.1" rx="14.0" ry="3.5" fill="rgb(153,115,0)"/><ellipse cx="60.4" cy="44.1" rx="10.0" ry="4.0" fill="rgb(153,115,0)" transform="rotate(-10 60.4 44.1)"/><ellipse cx="60.4" cy="44.1" rx="3.0" ry="1.6" fill="rgb(115,115,0)"/><ellipse cx="103.4" cy="31.1" rx="13.0" ry="3.5" fill="rgb(153,115,0)" transform="rotate(-10 103.4 31.1)"/><ellipse cx="86.4" cy="27.1" rx="4.0" ry="9.0" fill="rgb(153,115,0)"/><ellipse cx="98.4" cy="62.1" rx="9.0" ry="4.0" fill="rgb(153,115,0)"/><ellipse cx="95.4" cy="63.1" rx="3.0" ry="1.6" fill="rgb(115,115,0)"/><ellipse cx="79.4" cy="75.1" rx="5.0" ry="5.0" fill="rgb(153,115,0)"/><ellipse cx="119.4" cy="57.1" rx="4.0" ry="5.0" fill="rgb(153,115,0)"/><ellipse cx="66.4" cy="59.1" rx="5.0" ry="3.0" fill="rgb(153,115,0)"/><path d="M56.4,5.1 L71.4,3.1 L86.4,6.1" fill="none" stroke="rgb(153,115,0)" stroke-width="3.0" stroke-linecap="round" stroke-linejoin="round"/><path d="M51.4,17.1 L66.4,22.1 L76.4,27.1" fill="none" stroke="rgb(153,115,0)" stroke-width="2.5" stroke-linecap="round" stroke-linejoin="round"/><path d="M71.4,33.1 L81.4,36.1 L91.4,42.1" fill="none" stroke="rgb(153,115,0)" stroke-width="2.5" stroke-linecap="round" stroke-linejoin="round"/><path d="M111.4,69.1 L121.4,73.1 L131.4,78.1" fill="none" stroke="rgb(153,115,0)" stroke-width="2.5" stroke-linecap="round" stroke-linejoin="round"/><ellipse cx="131.4" cy="12.1" rx="14.0" ry="4.0" fill="rgb(153,115,0)"/><ellipse cx="136.4" cy="27.1" rx="14.0" ry="5.0" fill="rgb(145,115,0)"/><ellipse cx="151.4" cy="29.1" rx="9.0" ry="3.0" fill="rgb(128,115,0)"/><ellipse cx="131.4" cy="63.1" rx="9.0" ry="5.0" fill="rgb(153,115,0)"/><ellipse cx="121.4" cy="72.1" rx="5.0" ry="3.0" fill="rgb(115,115,0)"/><ellipse cx="147.4" cy="59.1" rx="5.0" ry="4.0" fill="rgb(153,115,0)"/><ellipse cx="136.4" cy="75.1" rx="5.0" ry="4.0" fill="rgb(153,115,0)"/><ellipse cx="110.4" cy="16.1" rx="12.0" ry="9.0" fill="rgb(230,255,0)"/><ellipse cx="91.4" cy="51.1" rx="10.0" ry="7.0" fill="rgb(230,255,0)"/><ellipse cx="61.4" cy="22.1" rx="8.0" ry="10.0" fill="rgb(227,255,0)"/><ellipse cx="156.4" cy="16.1" rx="7.0" ry="7.0" fill="rgb(230,255,0)"/><path d="M51.4,44.1 L111.4,44.1 L194.4,44.1" fill="none" stroke="rgb(230,255,0)" stroke-width="11.0" stroke-linecap="round" stroke-linejoin="round"/><path d="M143.4,0.1 L158.4,0.1 L163.4,9.1 L157.4,6.1 L147.4,2.1 Z" fill="rgb(38,255,0)"/><rect x="161.4" y="21.1" width="33.0" height="16.0" fill="rgb(128,255,0)"/><ellipse cx="174.4" cy="30.1" rx="10.0" ry="6.0" fill="rgb(26,255,0)"/><ellipse cx="185.4" cy="28.1" rx="8.0" ry="3.0" fill="rgb(102,255,0)"/><rect x="161.4" y="50.1" width="33.0" height="8.0" fill="rgb(168,255,0)"/><ellipse cx="176.4" cy="54.1" rx="8.0" ry="2.0" fill="rgb(158,255,0)"/><path d="M157.6,0.1 L169.1,21.9 L194.4,21.9" fill="none" stroke="rgb(10,255,0)" stroke-width="6.0" stroke-linecap="round" stroke-linejoin="round"/><path d="M157.6,83.4 L169.1,61.5 L194.4,61.5" fill="none" stroke="rgb(10,255,0)" stroke-width="5.0" stroke-linecap="round" stroke-linejoin="round"/></g></g><path d="M32,31.3 L46.3,33 M32,51.9 L46.3,50.2" stroke="#fff" stroke-width="0.9" fill="none"/><path d="M16.2,27.9 L24.4,29.9 L32,31.3 L46.3,33 M16.2,55.3 L24.4,53.3 L32,51.9 L46.3,50.2" stroke="#666" stroke-width="0.45" fill="none" opacity="0.8"/><path d="M9.30,82.80 v-2.6 M19.20,82.80 v-2.6 M29.10,82.80 v-2.6 M39.00,82.80 v-2.6 M48.90,82.80 v-4.5 M58.80,82.80 v-2.6 M68.70,82.80 v-2.6 M78.60,82.80 v-2.6 M88.50,82.80 v-2.6 M98.40,82.80 v-4.5 M108.30,82.80 v-2.6 M118.20,82.80 v-2.6 M128.10,82.80 v-2.6 M138.00,82.80 v-2.6 M147.90,82.80 v-4.5 M157.80,82.80 v-2.6 M167.70,82.80 v-2.6 M177.60,82.80 v-2.6 M187.50,82.80 v-2.6 M0,80.76 h5.2 M0,75.87 h2.6 M0,70.97 h2.6 M0,66.08 h2.6 M0,61.18 h5.2 M0,56.29 h2.6 M0,51.39 h2.6 M0,46.50 h2.6 M0,41.60 h5.2 M0,36.70 h2.6 M0,31.81 h2.6 M0,26.91 h2.6 M0,22.02 h5.2 M0,17.13 h2.6 M0,12.23 h2.6 M0,7.34 h2.6 M0,2.44 h5.2" stroke="#333" stroke-width="0.9" fill="none"/><rect x="0" y="0" width="193.3" height="82.8" fill="none" stroke="#2a2a2a" stroke-width="1.5"/><text class="t" x="0.60" y="92.40" text-anchor="middle">-50</text><text class="t" x="48.90" y="92.40" text-anchor="middle">0</text><text class="t" x="98.40" y="92.40" text-anchor="middle">50</text><text class="t" x="147.90" y="92.40" text-anchor="middle">100</text><text class="t" x="-3.3" y="5.84" text-anchor="end">40</text><text class="t" x="-3.3" y="25.42" text-anchor="end">20</text><text class="t" x="-3.3" y="45.00" text-anchor="end">0</text><text class="t" x="-3.3" y="64.58" text-anchor="end">-20</text><text class="t" x="-3.3" y="84.16" text-anchor="end">-40</text><text class="b" x="96.8" y="101.80" text-anchor="middle">Y(mm)</text><text class="b" transform="translate(-19.6,41.60) rotate(-90)" text-anchor="middle">X(mm)</text><rect x="204.6" y="18.1" width="9.2" height="60" fill="url(#cb)"/><text class="c" x="219.8" y="20.50">1.0</text><text class="c" x="219.8" y="32.50">0.9</text><text class="c" x="219.8" y="44.50">0.8</text><text class="c" x="219.8" y="56.50">0.7</text><text class="c" x="219.8" y="68.50">0.6</text><text class="c" x="219.8" y="80.50">0.5</text><text x="209.6" y="3.6" text-anchor="middle" style="font-size:6.5px;font-style:italic">k</text><line x1="197.2" x2="222.6" y1="5.9" y2="5.9" stroke="#333" stroke-width="0.6"/><text x="197.3" y="12.4" style="font-size:6.5px" textLength="25.2" lengthAdjust="spacingAndGlyphs"><tspan font-style="italic">k</tspan> + <tspan font-style="italic">k</tspan><tspan style="font-size:4.8px" dy="1">SGS</tspan></text></g>
<text class="cap" x="56.8" y="286.0" textLength="146.1" lengthAdjust="spacingAndGlyphs" xml:space="preserve">(c) Case 3: AUSM+ &amp; Smag.</text>
<g transform="translate(290.10,157.10)"><g clip-path="url(#dom)"><g filter="url(#f3)"><rect x="0" y="0" width="193.3" height="82.8" fill="rgb(218,255,0)"/><rect x="-28.6" y="-2.9" width="77.5" height="90.0" fill="rgb(33,102,0)"/><ellipse cx="3.9" cy="9.1" rx="3.0" ry="5.5" fill="rgb(128,102,0)"/><ellipse cx="4.4" cy="11.1" rx="2.0" ry="2.5" fill="rgb(158,102,0)"/><rect x="16.1" y="5.8" width="16.3" height="4.4" fill="rgb(153,102,0)"/><rect x="10.6" y="16.1" width="5.6" height="8.6" fill="rgb(153,102,0)"/><ellipse cx="43.4" cy="30.6" rx="3.0" ry="1.8" fill="rgb(140,102,0)"/><rect x="10.6" y="58.6" width="5.6" height="6.5" fill="rgb(153,102,0)"/><ellipse cx="3.9" cy="72.1" rx="3.0" ry="5.0" fill="rgb(122,102,0)"/><rect x="14.9" y="72.9" width="16.5" height="4.4" fill="rgb(158,102,0)"/><ellipse cx="43.4" cy="52.6" rx="3.0" ry="1.8" fill="rgb(140,102,0)"/><path d="M16.2,27.9 L24.4,29.9 L32.0,31.3 L46.3,33.0 L49.4,33.4 L49.4,50.0 L46.3,50.4 L32.0,52.1 L24.4,53.5 L16.2,55.5 Z" fill="rgb(214,102,0)"/><ellipse cx="18.9" cy="41.7" rx="2.5" ry="11.0" fill="rgb(158,102,0)"/><rect x="48.9" y="0.1" width="112.5" height="84.0" fill="rgb(218,255,0)"/><rect x="161.4" y="21.1" width="33.0" height="42.0" fill="rgb(209,255,0)"/><path d="M87.4,18.1 L98.4,14.1 L109.4,11.1" fill="none" stroke="rgb(153,255,0)" stroke-width="3.5" stroke-linecap="round" stroke-linejoin="round"/><ellipse cx="100.4" cy="25.1" rx="5.0" ry="4.0" fill="rgb(168,255,0)"/><path d="M92.4,42.9 L111.4,41.1 L136.4,39.1" fill="none" stroke="rgb(153,255,0)" stroke-width="2.6" stroke-linecap="round" stroke-linejoin="round"/><path d="M136.4,39.1 L151.4,38.1 L167.4,36.9" fill="none" stroke="rgb(140,255,0)" stroke-width="5.0" stroke-linecap="round" stroke-linejoin="round"/><path d="M143.4,38.3 L163.4,37.3" fill="none" stroke="rgb(102,255,0)" stroke-width="2.2" stroke-linecap="round" stroke-linejoin="round"/><ellipse cx="104.4" cy="61.1" rx="9.0" ry="6.0" fill="rgb(168,255,0)"/><ellipse cx="101.4" cy="60.1" rx="2.0" ry="3.0" fill="rgb(153,255,0)"/><ellipse cx="109.4" cy="63.1" rx="2.0" ry="3.0" fill="rgb(153,255,0)"/><ellipse cx="54.4" cy="78.1" rx="4.0" ry="4.0" fill="rgb(158,255,0)"/><path d="M63.4,79.1 L69.4,77.1 L76.4,74.1" fill="none" stroke="rgb(153,255,0)" stroke-width="3.0" stroke-linecap="round" stroke-linejoin="round"/><ellipse cx="59.4" cy="1.6" rx="5.0" ry="1.5" fill="rgb(153,255,0)"/><path d="M117.4,35.1 L129.4,32.1 L141.4,30.1" fill="none" stroke="rgb(173,255,0)" stroke-width="3.0" stroke-linecap="round" stroke-linejoin="round"/><ellipse cx="168.4" cy="22.9" rx="4.0" ry="1.5" fill="rgb(26,255,0)"/><ellipse cx="176.4" cy="25.1" rx="6.0" ry="1.5" fill="rgb(153,255,0)"/><ellipse cx="171.4" cy="58.6" rx="6.0" ry="2.0" fill="rgb(38,255,0)"/><ellipse cx="185.4" cy="58.1" rx="8.0" ry="2.0" fill="rgb(140,255,0)"/><ellipse cx="148.4" cy="58.1" rx="7.0" ry="4.0" fill="rgb(163,255,0)"/><ellipse cx="144.4" cy="1.1" rx="5.0" ry="1.5" fill="rgb(153,255,0)"/><ellipse cx="71.4" cy="67.1" rx="5.0" ry="3.0" fill="rgb(173,255,0)"/><ellipse cx="71.4" cy="42.1" rx="14.0" ry="12.0" fill="rgb(230,255,0)"/><ellipse cx="121.4" cy="17.1" rx="10.0" ry="8.0" fill="rgb(230,255,0)"/><ellipse cx="131.4" cy="57.1" rx="12.0" ry="8.0" fill="rgb(230,255,0)"/></g></g><path d="M32,31.3 L46.3,33 M32,51.9 L46.3,50.2" stroke="#fff" stroke-width="0.9" fill="none"/><path d="M16.2,27.9 L24.4,29.9 L32,31.3 L46.3,33 M16.2,55.3 L24.4,53.3 L32,51.9 L46.3,50.2" stroke="#666" stroke-width="0.45" fill="none" opacity="0.8"/><path d="M9.30,82.80 v-2.6 M19.20,82.80 v-2.6 M29.10,82.80 v-2.6 M39.00,82.80 v-2.6 M48.90,82.80 v-4.5 M58.80,82.80 v-2.6 M68.70,82.80 v-2.6 M78.60,82.80 v-2.6 M88.50,82.80 v-2.6 M98.40,82.80 v-4.5 M108.30,82.80 v-2.6 M118.20,82.80 v-2.6 M128.10,82.80 v-2.6 M138.00,82.80 v-2.6 M147.90,82.80 v-4.5 M157.80,82.80 v-2.6 M167.70,82.80 v-2.6 M177.60,82.80 v-2.6 M187.50,82.80 v-2.6 M0,80.76 h5.2 M0,75.87 h2.6 M0,70.97 h2.6 M0,66.08 h2.6 M0,61.18 h5.2 M0,56.29 h2.6 M0,51.39 h2.6 M0,46.50 h2.6 M0,41.60 h5.2 M0,36.70 h2.6 M0,31.81 h2.6 M0,26.91 h2.6 M0,22.02 h5.2 M0,17.13 h2.6 M0,12.23 h2.6 M0,7.34 h2.6 M0,2.44 h5.2" stroke="#333" stroke-width="0.9" fill="none"/><rect x="0" y="0" width="193.3" height="82.8" fill="none" stroke="#2a2a2a" stroke-width="1.5"/><text class="t" x="0.60" y="92.40" text-anchor="middle">-50</text><text class="t" x="48.90" y="92.40" text-anchor="middle">0</text><text class="t" x="98.40" y="92.40" text-anchor="middle">50</text><text class="t" x="147.90" y="92.40" text-anchor="middle">100</text><text class="t" x="-3.3" y="5.84" text-anchor="end">40</text><text class="t" x="-3.3" y="25.42" text-anchor="end">20</text><text class="t" x="-3.3" y="45.00" text-anchor="end">0</text><text class="t" x="-3.3" y="64.58" text-anchor="end">-20</text><text class="t" x="-3.3" y="84.16" text-anchor="end">-40</text><text class="b" x="96.8" y="101.80" text-anchor="middle">Y(mm)</text><text class="b" transform="translate(-19.6,41.60) rotate(-90)" text-anchor="middle">X(mm)</text><rect x="204.6" y="18.1" width="9.2" height="60" fill="url(#cb)"/><text class="c" x="219.8" y="20.50">1.0</text><text class="c" x="219.8" y="32.50">0.9</text><text class="c" x="219.8" y="44.50">0.8</text><text class="c" x="219.8" y="56.50">0.7</text><text class="c" x="219.8" y="68.50">0.6</text><text class="c" x="219.8" y="80.50">0.5</text><text x="209.6" y="3.6" text-anchor="middle" style="font-size:6.5px;font-style:italic">k</text><line x1="197.2" x2="222.6" y1="5.9" y2="5.9" stroke="#333" stroke-width="0.6"/><text x="197.3" y="12.4" style="font-size:6.5px" textLength="25.2" lengthAdjust="spacingAndGlyphs"><tspan font-style="italic">k</tspan> + <tspan font-style="italic">k</tspan><tspan style="font-size:4.8px" dy="1">SGS</tspan></text></g>
<text class="cap" x="313.0" y="286.0" textLength="149.9" lengthAdjust="spacingAndGlyphs" xml:space="preserve">(d) Case 4: AUSM+ &amp; Vreman</text>
<g transform="translate(28.60,311.90)"><g clip-path="url(#dom)"><g filter="url(#f4)"><rect x="0" y="0" width="193.3" height="82.8" fill="rgb(138,255,0)"/><rect x="-28.6" y="-2.9" width="77.5" height="90.0" fill="rgb(33,102,0)"/><ellipse cx="3.9" cy="9.1" rx="2.0" ry="3.0" fill="rgb(76,102,0)"/><ellipse cx="3.4" cy="73.1" rx="2.0" ry="3.0" fill="rgb(76,102,0)"/><ellipse cx="13.4" cy="19.6" rx="1.6" ry="3.0" fill="rgb(89,102,0)"/><path d="M16.2,27.9 L24.4,29.9 L32.0,31.3 L46.3,33.0 L49.4,33.4 L49.4,50.0 L46.3,50.4 L32.0,52.1 L24.4,53.5 L16.2,55.5 Z" fill="rgb(158,102,0)"/><ellipse cx="20.4" cy="35.1" rx="4.0" ry="4.0" fill="rgb(153,102,0)"/><ellipse cx="20.4" cy="48.1" rx="4.0" ry="4.0" fill="rgb(153,102,0)"/><path d="M15.4,41.7 L31.4,37.1 L48.9,34.1 L48.9,49.1 L31.4,46.1 Z" fill="rgb(214,102,0)"/><rect x="48.9" y="0.1" width="112.5" height="84.0" fill="rgb(138,255,0)"/><path d="M48.9,25.1 L61.4,23.1 L75.4,27.1 L84.4,35.1 L82.4,47.1 L85.4,61.1 L77.4,69.1 L67.4,63.1 L57.4,67.1 L48.9,59.1 Z" fill="rgb(201,255,0)"/><ellipse cx="71.4" cy="11.1" rx="8.0" ry="5.5" fill="rgb(199,255,0)"/><ellipse cx="91.4" cy="38.1" rx="5.0" ry="4.0" fill="rgb(196,255,0)"/><ellipse cx="121.4" cy="39.6" rx="26.0" ry="5.5" fill="rgb(204,255,0)" transform="rotate(-8 121.4 39.6)"/><path d="M147.4,36.1 L166.4,38.1 L194.4,39.1" fill="none" stroke="rgb(199,255,0)" stroke-width="8.0" stroke-linecap="round" stroke-linejoin="round"/><ellipse cx="113.4" cy="60.1" rx="9.0" ry="5.0" fill="rgb(199,255,0)"/><ellipse cx="125.4" cy="75.1" rx="6.0" ry="6.0" fill="rgb(196,255,0)"/><ellipse cx="143.4" cy="61.1" rx="8.0" ry="9.0" fill="rgb(199,255,0)"/><ellipse cx="133.4" cy="9.1" rx="5.0" ry="4.0" fill="rgb(194,255,0)"/><ellipse cx="142.4" cy="19.1" rx="5.0" ry="3.0" fill="rgb(173,255,0)"/><ellipse cx="50.4" cy="19.1" rx="3.0" ry="9.0" fill="rgb(51,255,0)"/><ellipse cx="50.4" cy="77.1" rx="3.0" ry="6.0" fill="rgb(46,255,0)"/><ellipse cx="117.9" cy="8.1" rx="4.0" ry="6.0" fill="rgb(56,255,0)"/><ellipse cx="85.4" cy="30.1" rx="8.0" ry="3.0" fill="rgb(76,255,0)"/><ellipse cx="109.4" cy="49.6" rx="12.0" ry="4.0" fill="rgb(76,255,0)"/><ellipse cx="131.4" cy="55.1" rx="4.0" ry="3.0" fill="rgb(76,255,0)"/><ellipse cx="99.4" cy="67.1" rx="3.0" ry="3.0" fill="rgb(76,255,0)"/><path d="M117.4,1.1 L157.4,1.1" fill="none" stroke="rgb(38,255,0)" stroke-width="5.0" stroke-linecap="round" stroke-linejoin="round"/><rect x="161.4" y="21.1" width="33.0" height="13.0" fill="rgb(97,255,0)"/><rect x="161.4" y="46.1" width="33.0" height="17.0" fill="rgb(82,255,0)"/><ellipse cx="181.4" cy="52.1" rx="12.0" ry="3.0" fill="rgb(107,255,0)"/><path d="M157.6,0.1 L169.1,21.9 L194.4,21.9" fill="none" stroke="rgb(10,255,0)" stroke-width="6.0" stroke-linecap="round" stroke-linejoin="round"/><path d="M157.6,83.4 L169.1,61.5 L194.4,61.5" fill="none" stroke="rgb(10,255,0)" stroke-width="6.0" stroke-linecap="round" stroke-linejoin="round"/></g></g><path d="M32,31.3 L46.3,33 M32,51.9 L46.3,50.2" stroke="#fff" stroke-width="0.9" fill="none"/><path d="M16.2,27.9 L24.4,29.9 L32,31.3 L46.3,33 M16.2,55.3 L24.4,53.3 L32,51.9 L46.3,50.2" stroke="#666" stroke-width="0.45" fill="none" opacity="0.8"/><path d="M9.30,82.80 v-2.6 M19.20,82.80 v-2.6 M29.10,82.80 v-2.6 M39.00,82.80 v-2.6 M48.90,82.80 v-4.5 M58.80,82.80 v-2.6 M68.70,82.80 v-2.6 M78.60,82.80 v-2.6 M88.50,82.80 v-2.6 M98.40,82.80 v-4.5 M108.30,82.80 v-2.6 M118.20,82.80 v-2.6 M128.10,82.80 v-2.6 M138.00,82.80 v-2.6 M147.90,82.80 v-4.5 M157.80,82.80 v-2.6 M167.70,82.80 v-2.6 M177.60,82.80 v-2.6 M187.50,82.80 v-2.6 M0,80.76 h5.2 M0,75.87 h2.6 M0,70.97 h2.6 M0,66.08 h2.6 M0,61.18 h5.2 M0,56.29 h2.6 M0,51.39 h2.6 M0,46.50 h2.6 M0,41.60 h5.2 M0,36.70 h2.6 M0,31.81 h2.6 M0,26.91 h2.6 M0,22.02 h5.2 M0,17.13 h2.6 M0,12.23 h2.6 M0,7.34 h2.6 M0,2.44 h5.2" stroke="#333" stroke-width="0.9" fill="none"/><rect x="0" y="0" width="193.3" height="82.8" fill="none" stroke="#2a2a2a" stroke-width="1.5"/><text class="t" x="0.60" y="92.40" text-anchor="middle">-50</text><text class="t" x="48.90" y="92.40" text-anchor="middle">0</text><text class="t" x="98.40" y="92.40" text-anchor="middle">50</text><text class="t" x="147.90" y="92.40" text-anchor="middle">100</text><text class="t" x="-3.3" y="5.84" text-anchor="end">40</text><text class="t" x="-3.3" y="25.42" text-anchor="end">20</text><text class="t" x="-3.3" y="45.00" text-anchor="end">0</text><text class="t" x="-3.3" y="64.58" text-anchor="end">-20</text><text class="t" x="-3.3" y="84.16" text-anchor="end">-40</text><text class="b" x="96.8" y="101.80" text-anchor="middle">Y(mm)</text><text class="b" transform="translate(-19.6,41.60) rotate(-90)" text-anchor="middle">X(mm)</text><rect x="204.6" y="18.1" width="9.2" height="60" fill="url(#cb)"/><text class="c" x="219.8" y="20.50">1.0</text><text class="c" x="219.8" y="32.50">0.9</text><text class="c" x="219.8" y="44.50">0.8</text><text class="c" x="219.8" y="56.50">0.7</text><text class="c" x="219.8" y="68.50">0.6</text><text class="c" x="219.8" y="80.50">0.5</text><text x="209.6" y="3.6" text-anchor="middle" style="font-size:6.5px;font-style:italic">k</text><line x1="197.2" x2="222.6" y1="5.9" y2="5.9" stroke="#333" stroke-width="0.6"/><text x="197.3" y="12.4" style="font-size:6.5px" textLength="25.2" lengthAdjust="spacingAndGlyphs"><tspan font-style="italic">k</tspan> + <tspan font-style="italic">k</tspan><tspan style="font-size:4.8px" dy="1">SGS</tspan></text></g>
<text class="cap" x="65.0" y="441.7" textLength="128.0" lengthAdjust="spacingAndGlyphs" xml:space="preserve">(e) Case 5: KEP &amp; Smag.</text>
<g transform="translate(290.10,311.90)"><g clip-path="url(#dom)"><g filter="url(#f5)"><rect x="0" y="0" width="193.3" height="82.8" fill="rgb(153,255,0)"/><rect x="-28.6" y="-2.9" width="77.5" height="90.0" fill="rgb(33,102,0)"/><ellipse cx="3.9" cy="9.1" rx="3.0" ry="5.5" fill="rgb(97,102,0)"/><rect x="16.1" y="5.8" width="16.3" height="4.4" fill="rgb(115,102,0)"/><rect x="10.6" y="16.1" width="5.6" height="8.6" fill="rgb(102,102,0)"/><ellipse cx="3.9" cy="72.1" rx="3.0" ry="5.0" fill="rgb(92,102,0)"/><rect x="14.9" y="72.9" width="16.5" height="4.4" fill="rgb(115,102,0)"/><rect x="10.6" y="58.6" width="5.6" height="6.5" fill="rgb(102,102,0)"/><path d="M16.2,27.9 L24.4,29.9 L32.0,31.3 L46.3,33.0 L49.4,33.4 L49.4,50.0 L46.3,50.4 L32.0,52.1 L24.4,53.5 L16.2,55.5 Z" fill="rgb(153,102,0)"/><path d="M23.4,41.7 L36.4,35.1 L48.9,32.1 L48.9,51.1 L36.4,48.1 Z" fill="rgb(219,102,0)"/><rect x="48.9" y="0.1" width="112.5" height="84.0" fill="rgb(153,255,0)"/><path d="M48.9,27.1 L61.4,19.1 L81.4,15.1 L97.4,17.1 L97.4,33.1 L86.4,39.1 L99.4,52.1 L96.4,67.1 L81.4,69.1 L71.4,57.1 L59.4,57.1 L48.9,55.1 Z" fill="rgb(195,255,0)"/><ellipse cx="108.4" cy="25.1" rx="12.0" ry="14.0" fill="rgb(193,255,0)"/><path d="M117.4,37.1 L141.4,37.1 L161.4,37.1 L194.4,35.1" fill="none" stroke="rgb(195,255,0)" stroke-width="9.0" stroke-linecap="round" stroke-linejoin="round"/><ellipse cx="124.4" cy="52.1" rx="8.0" ry="5.0" fill="rgb(193,255,0)"/><ellipse cx="147.4" cy="70.1" rx="10.0" ry="7.0" fill="rgb(190,255,0)"/><ellipse cx="174.4" cy="30.1" rx="18.0" ry="4.0" fill="rgb(178,255,0)"/><path d="M83.4,44.6 L121.4,44.6 L165.4,44.6" fill="none" stroke="rgb(76,255,0)" stroke-width="3.5" stroke-linecap="round" stroke-linejoin="round"/><ellipse cx="101.4" cy="55.1" rx="2.5" ry="2.5" fill="rgb(76,255,0)"/><ellipse cx="108.4" cy="61.1" rx="3.0" ry="3.0" fill="rgb(71,255,0)"/><ellipse cx="104.4" cy="67.1" rx="2.0" ry="2.0" fill="rgb(76,255,0)"/><ellipse cx="63.4" cy="11.1" rx="5.0" ry="2.0" fill="rgb(76,255,0)"/><ellipse cx="131.4" cy="6.1" rx="6.0" ry="3.0" fill="rgb(64,255,0)"/><ellipse cx="66.4" cy="72.1" rx="8.0" ry="6.0" fill="rgb(115,255,0)"/><ellipse cx="111.4" cy="77.1" rx="8.0" ry="4.0" fill="rgb(115,255,0)"/><rect x="163.4" y="49.1" width="31.0" height="9.0" fill="rgb(115,255,0)"/><ellipse cx="167.4" cy="58.1" rx="2.0" ry="2.0" fill="rgb(38,255,0)"/><path d="M117.4,0.6 L157.4,0.6" fill="none" stroke="rgb(51,255,0)" stroke-width="3.0" stroke-linecap="round" stroke-linejoin="round"/></g></g><path d="M32,31.3 L46.3,33 M32,51.9 L46.3,50.2" stroke="#fff" stroke-width="0.9" fill="none"/><path d="M16.2,27.9 L24.4,29.9 L32,31.3 L46.3,33 M16.2,55.3 L24.4,53.3 L32,51.9 L46.3,50.2" stroke="#666" stroke-width="0.45" fill="none" opacity="0.8"/><path d="M9.30,82.80 v-2.6 M19.20,82.80 v-2.6 M29.10,82.80 v-2.6 M39.00,82.80 v-2.6 M48.90,82.80 v-4.5 M58.80,82.80 v-2.6 M68.70,82.80 v-2.6 M78.60,82.80 v-2.6 M88.50,82.80 v-2.6 M98.40,82.80 v-4.5 M108.30,82.80 v-2.6 M118.20,82.80 v-2.6 M128.10,82.80 v-2.6 M138.00,82.80 v-2.6 M147.90,82.80 v-4.5 M157.80,82.80 v-2.6 M167.70,82.80 v-2.6 M177.60,82.80 v-2.6 M187.50,82.80 v-2.6 M0,80.76 h5.2 M0,75.87 h2.6 M0,70.97 h2.6 M0,66.08 h2.6 M0,61.18 h5.2 M0,56.29 h2.6 M0,51.39 h2.6 M0,46.50 h2.6 M0,41.60 h5.2 M0,36.70 h2.6 M0,31.81 h2.6 M0,26.91 h2.6 M0,22.02 h5.2 M0,17.13 h2.6 M0,12.23 h2.6 M0,7.34 h2.6 M0,2.44 h5.2" stroke="#333" stroke-width="0.9" fill="none"/><rect x="0" y="0" width="193.3" height="82.8" fill="none" stroke="#2a2a2a" stroke-width="1.5"/><text class="t" x="0.60" y="92.40" text-anchor="middle">-50</text><text class="t" x="48.90" y="92.40" text-anchor="middle">0</text><text class="t" x="98.40" y="92.40" text-anchor="middle">50</text><text class="t" x="147.90" y="92.40" text-anchor="middle">100</text><text class="t" x="-3.3" y="5.84" text-anchor="end">40</text><text class="t" x="-3.3" y="25.42" text-anchor="end">20</text><text class="t" x="-3.3" y="45.00" text-anchor="end">0</text><text class="t" x="-3.3" y="64.58" text-anchor="end">-20</text><text class="t" x="-3.3" y="84.16" text-anchor="end">-40</text><text class="b" x="96.8" y="101.80" text-anchor="middle">Y(mm)</text><text class="b" transform="translate(-19.6,41.60) rotate(-90)" text-anchor="middle">X(mm)</text><rect x="204.6" y="18.1" width="9.2" height="60" fill="url(#cb)"/><text class="c" x="219.8" y="20.50">1.0</text><text class="c" x="219.8" y="32.50">0.9</text><text class="c" x="219.8" y="44.50">0.8</text><text class="c" x="219.8" y="56.50">0.7</text><text class="c" x="219.8" y="68.50">0.6</text><text class="c" x="219.8" y="80.50">0.5</text><text x="209.6" y="3.6" text-anchor="middle" style="font-size:6.5px;font-style:italic">k</text><line x1="197.2" x2="222.6" y1="5.9" y2="5.9" stroke="#333" stroke-width="0.6"/><text x="197.3" y="12.4" style="font-size:6.5px" textLength="25.2" lengthAdjust="spacingAndGlyphs"><tspan font-style="italic">k</tspan> + <tspan font-style="italic">k</tspan><tspan style="font-size:4.8px" dy="1">SGS</tspan></text></g>
<text class="cap" x="323.8" y="441.7" textLength="135.4" lengthAdjust="spacingAndGlyphs" xml:space="preserve">(f) Case 6: KEP &amp; Vreman</text>
</svg></body></html>
